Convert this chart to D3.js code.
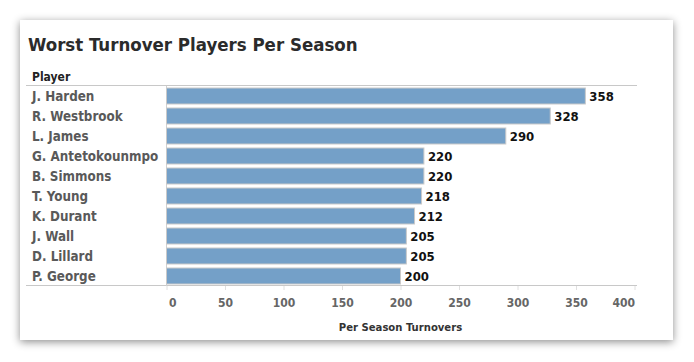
<!DOCTYPE html>
<html>
<head>
<meta charset="utf-8">
<script src="https://cdn.jsdelivr.net/npm/d3@7"></script>
<style>
  body { margin: 0; background: #fff; }
  svg text { font-family: "DejaVu Sans Condensed", "DejaVu Sans", sans-serif; font-weight: bold; }
</style>
</head>
<body>
<svg id="chart" width="694" height="362"></svg>
<script>
(function() {
  'use strict';

var players = ['J. Harden', 'R. Westbrook', 'L. James', 'G. Antetokounmpo', 'B. Simmons',
               'T. Young', 'K. Durant', 'J. Wall', 'D. Lillard', 'P. George'];
var turnovers = [358, 328, 290, 220, 220, 218, 212, 205, 205, 200];
var xTicks = [0, 50, 100, 150, 200, 250, 300, 350, 400];

var data = players.map(function(p, i) { return { name: p, value: turnovers[i] }; });

var svg = d3.select('#chart');

// card with drop shadow
var defs = svg.append('defs');
var f = defs.append('filter').attr('id', 'shadow')
  .attr('x', '-10%').attr('y', '-10%').attr('width', '120%').attr('height', '120%');
f.append('feDropShadow')
  .attr('dx', 0).attr('dy', 2).attr('stdDeviation', 4)
  .attr('flood-color', '#000').attr('flood-opacity', 0.45);

svg.append('rect')
  .attr('x', 20).attr('y', 20).attr('width', 653).attr('height', 320)
  .attr('fill', '#fff')
  .attr('filter', 'url(#shadow)');

var x = d3.scaleLinear()
  .domain([0, 400])
  .range([166.5, 634.5]);

var y = d3.scaleBand()
  .domain(players)
  .range([86, 286])
  .paddingInner(0.2)
  .paddingOuter(0.1);

// title
svg.append('text')
  .attr('x', 28).attr('y', 51)
  .attr('font-size', 18.5)
  .attr('fill', '#2b2b2b')
  .text('Worst Turnover Players Per Season');

svg.append('text')
  .attr('x', 32).attr('y', 81)
  .attr('font-size', 12)
  .attr('fill', '#222')
  .text('Player');

// header and axis lines
svg.append('line')
  .attr('x1', 26).attr('x2', 637).attr('y1', 85.5).attr('y2', 85.5)
  .attr('stroke', '#c8c8c8');
svg.append('line')
  .attr('x1', 26).attr('x2', 637).attr('y1', 285.5).attr('y2', 285.5)
  .attr('stroke', '#c8c8c8');
svg.append('line')
  .attr('x1', 166.5).attr('x2', 166.5).attr('y1', 86).attr('y2', 286)
  .attr('stroke', '#d0d0d0');

// row labels
svg.selectAll('.rowlab')
    .data(data)
  .enter().append('text')
    .attr('class', 'rowlab')
    .attr('x', 32)
    .attr('y', function(d) { return y(d.name) + y.bandwidth() / 2; })
    .attr('dy', '0.36em')
    .attr('font-size', 13.3)
    .attr('fill', '#595959')
    .text(function(d) { return d.name; });

// bars
svg.selectAll('.bar')
    .data(data)
  .enter().append('rect')
    .attr('class', 'bar')
    .attr('x', x(0))
    .attr('y', function(d) { return y(d.name); })
    .attr('width', function(d) { return x(d.value) - x(0); })
    .attr('height', y.bandwidth())
    .attr('fill', '#74a0c8')
    .attr('stroke', '#c9c9c9')
    .attr('stroke-width', 1);

// value labels
svg.selectAll('.val')
    .data(data)
  .enter().append('text')
    .attr('class', 'val')
    .attr('x', function(d) { return x(d.value) + 4; })
    .attr('y', function(d) { return y(d.name) + y.bandwidth() / 2; })
    .attr('dy', '0.36em')
    .attr('font-size', 13)
    .attr('fill', '#111')
    .text(function(d) { return d.value; });

// x axis
var axis = d3.axisBottom(x)
  .tickValues(xTicks)
  .tickSize(4)
  .tickPadding(8);

var g = svg.append('g')
  .attr('transform', 'translate(0,286)')
  .call(axis);
g.select('.domain').remove();
g.selectAll('.tick line').attr('stroke', '#e0e0e0');
g.selectAll('.tick text')
  .attr('font-size', 12)
  .attr('font-family', null)
  .attr('fill', '#666')
  .attr('text-anchor', function(d, i) { return i === 0 ? 'start' : (i === xTicks.length - 1 ? 'end' : 'middle'); })
  .attr('dx', function(d, i) { return i === 0 ? 2 : 0; });

svg.append('text')
  .attr('x', x(200)).attr('y', 331)
  .attr('text-anchor', 'middle')
  .attr('font-size', 11.2)
  .attr('fill', '#333')
  .text('Per Season Turnovers');
}());
</script>
</body>
</html>
